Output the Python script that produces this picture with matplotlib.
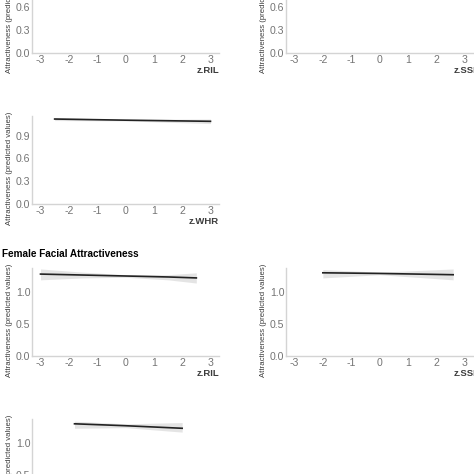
import matplotlib
matplotlib.use('Agg')
import matplotlib.pyplot as plt
from matplotlib import font_manager as fm

# pick a narrow face if one is installed, the reference uses a condensed sans
names = {f.name for f in fm.fontManager.ttflist}
if 'Liberation Sans Narrow' in names:
    base_font = ['Liberation Sans Narrow', 'DejaVu Sans']
    ylab_size = 6.1
else:
    base_font = ['Liberation Sans', 'DejaVu Sans']
    ylab_size = 5.6
tick_size = 7.6
plt.rcParams['font.family'] = base_font

W = 474.0

# --- data ---
# top-left panel (z.RIL), line not visible in the crop
ril1_ylim = 1.16
# top-right panel (z.SSI), line not visible in the crop
ssi1_ylim = 1.16

# z.WHR panel
whr_x = [-2.5, 0.0, 3.0]
whr_y = [1.12, 1.105, 1.09]
whr_lo = [1.10, 1.095, 1.06]
whr_hi = [1.14, 1.115, 1.12]

# Female Facial Attractiveness, z.RIL
fril_x = [-3.0, -1.5, 0.0, 1.5, 2.5]
fril_y = [1.28, 1.265, 1.25, 1.235, 1.22]
fril_lo = [1.19, 1.22, 1.23, 1.19, 1.14]
fril_hi = [1.36, 1.31, 1.27, 1.27, 1.30]

# Female, z.SSI
fssi_x = [-2.0, 0.0, 2.6]
fssi_y = [1.30, 1.29, 1.27]
fssi_lo = [1.22, 1.27, 1.19]
fssi_hi = [1.35, 1.31, 1.36]

# Female, third predictor (bottom-left)
f3_x = [-1.8, 0.0, 2.0]
f3_y = [1.30, 1.27, 1.23]
f3_lo = [1.23, 1.24, 1.17]
f3_hi = [1.34, 1.30, 1.32]

xticks = [-3, -2, -1, 0, 1, 2, 3]


def make_ax(left, right, top, bottom):
    return fig.add_axes([left / W, 1 - bottom / W, (right - left) / W, (bottom - top) / W])


def style(ax, ylim, yticks, xlabel=None, xlab_x=1.0):
    ax.set_xlim(-3.3, 3.3)
    ax.set_ylim(0, ylim)
    ax.set_xticks(xticks)
    ax.set_xticklabels([str(t) for t in xticks])
    ax.set_yticks(yticks)
    ax.set_yticklabels([f"{t:.1f}" for t in yticks])
    for s in ['top', 'right']:
        ax.spines[s].set_visible(False)
    for s in ['left', 'bottom']:
        ax.spines[s].set_color('#d4d4d4')
        ax.spines[s].set_linewidth(1.0)
    ax.tick_params(length=0, labelsize=tick_size, colors='#747474')
    ax.tick_params(axis='y', pad=1.2)
    ax.tick_params(axis='x', pad=1.5)
    ax.set_ylabel('Attractiveness (predicted values)', fontsize=ylab_size, color='#3c3c3c')
    h = ax.get_position().height * W
    w = ax.get_position().width * W
    ax.yaxis.set_label_coords(-19 / w, 0.5 - 8 / h)
    if xlabel:
        ax.set_xlabel(xlabel, fontsize=6.8, color='#3c3c3c', fontweight='bold', ha='right')
        ax.xaxis.set_label_coords(xlab_x, -13 / h)


def draw(ax, x, y, lo, hi):
    ax.fill_between(x, lo, hi, color='#e0e0e0', alpha=0.85, linewidth=0)
    ax.plot(x, y, color='#222222', linewidth=1.2)


fig = plt.figure(figsize=(4.74, 4.74), dpi=100)

ax1 = make_ax(32, 219, 53 - 1.16 * 76.7, 53)
style(ax1, ril1_ylim, [0.0, 0.3, 0.6, 0.9], 'z.RIL')

ax2 = make_ax(286, 473, 53 - 1.16 * 76.7, 53)
style(ax2, ssi1_ylim, [0.0, 0.3, 0.6, 0.9], 'z.SSI', xlab_x=1.0 + 3 / 187)

ax3 = make_ax(32, 219, 116, 204)
style(ax3, 1.16, [0.0, 0.3, 0.6, 0.9], 'z.WHR')
draw(ax3, whr_x, whr_y, whr_lo, whr_hi)

fig.text(2 / W, 1 - 254 / W, 'Female Facial Attractiveness', fontsize=7.2,
         fontweight='bold', va='center', ha='left', family=['Liberation Sans', 'DejaVu Sans'])

ax4 = make_ax(32, 219, 268, 356)
style(ax4, 1.375, [0.0, 0.5, 1.0], 'z.RIL')
draw(ax4, fril_x, fril_y, fril_lo, fril_hi)

ax5 = make_ax(286, 473, 268, 356)
style(ax5, 1.375, [0.0, 0.5, 1.0], 'z.SSI', xlab_x=1.0 + 3 / 187)
draw(ax5, fssi_x, fssi_y, fssi_lo, fssi_hi)

ax6 = make_ax(32, 219, 419, 507)
style(ax6, 1.375, [0.0, 0.5, 1.0])
draw(ax6, f3_x, f3_y, f3_lo, f3_hi)

plt.savefig('out.png', dpi=100)
plt.close()
